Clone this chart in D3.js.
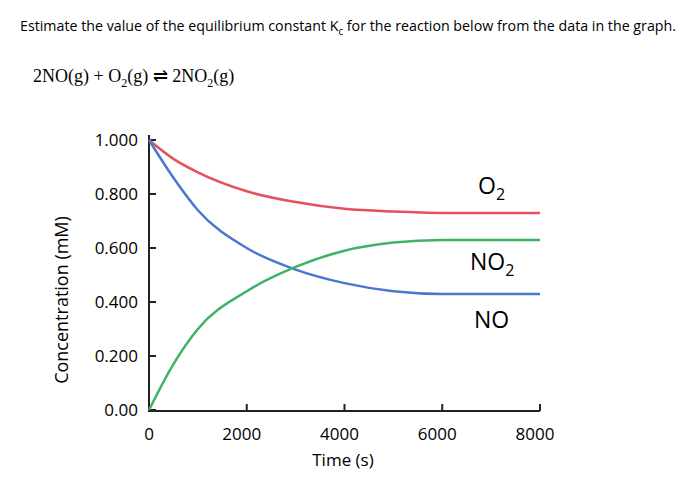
<!DOCTYPE html><html><head><script src="https://cdn.jsdelivr.net/npm/d3@7"></script>
<style>body{margin:0;background:#fff}text{font-family:"Open Sans",sans-serif}</style></head><body>
<svg id="c" width="700" height="477"></svg>
<script>
const times=[0,500,1000,2000,3000,4000,5000,6000,7000,8000];
const no2=[0,.17,.30,.44,.53,.59,.62,.63,.63,.63];
const no=[1,.86,.74,.60,.52,.47,.44,.43,.43,.43];
const o2=[1,.93,.88,.81,.77,.745,.735,.73,.73,.73];
const yTicks=[0,0.2,0.4,0.6,0.8,1.0];
const yLabels=["0.00","0.200","0.400","0.600","0.800","1.000"];
const xTicks=[0,2000,4000,6000,8000];
const svg=d3.select("#c");
const x=d3.scaleLinear().domain([0,8000]).range([149,540]);
const y=d3.scaleLinear().domain([0,1]).range([410,140]);
const title=svg.append("text").attr("x",20).attr("y",31).attr("font-size",14.5).attr("textLength",656).attr("lengthAdjust","spacingAndGlyphs");
title.append("tspan").text("Estimate the value of the equilibrium constant K");
title.append("tspan").attr("font-size",10).attr("dy",4).text("c");
title.append("tspan").attr("dy",-4).text(" for the reaction below from the data in the graph.");
const eq=svg.append("text").attr("x",33).attr("y",82).attr("font-size",18).style("font-family","Liberation Serif,serif");
eq.append("tspan").text("2NO(g) + O");eq.append("tspan").attr("font-size",12).attr("dy",5).text("2");
eq.append("tspan").attr("dy",-5).text("(g) ");
eq.append("tspan").text("\u21CC 2NO");eq.append("tspan").attr("font-size",12).attr("dy",5).text("2");eq.append("tspan").attr("dy",-5).text("(g)");
const g=svg.append("g");
g.append("line").attr("x1",149).attr("x2",149).attr("y1",135).attr("y2",412).attr("stroke","#222").attr("stroke-width",2);
g.append("line").attr("x1",149).attr("x2",540).attr("y1",411).attr("y2",411).attr("stroke","#222").attr("stroke-width",2);
yTicks.forEach((v,i)=>{g.append("line").attr("x1",149).attr("x2",156).attr("y1",y(v)).attr("y2",y(v)).attr("stroke","#222").attr("stroke-width",2);
g.append("text").attr("x",138).attr("y",y(v)+6).attr("text-anchor","end").attr("font-size",17).text(yLabels[i]);});
xTicks.forEach(v=>{if(v>0)g.append("line").attr("x1",x(v)).attr("x2",x(v)).attr("y1",411).attr("y2",404).attr("stroke","#222").attr("stroke-width",2);
g.append("text").attr("x",x(v)-(v?5:0)).attr("y",440).attr("text-anchor","middle").attr("font-size",17).text(v);});
svg.append("text").attr("x",343).attr("y",466).attr("text-anchor","middle").attr("font-size",17).text("Time (s)");
svg.append("text").attr("transform","translate(68,300) rotate(-90)").attr("text-anchor","middle").attr("font-size",18).text("Concentration (mM)");
const line=d3.line().x((d,i)=>x(times[i])).y(d=>y(d)).curve(d3.curveMonotoneX);
[[o2,"#e5505a"],[no,"#4a78d0"],[no2,"#3fb365"]].forEach(([d,c])=>svg.append("path").attr("d",line(d)).attr("fill","none").attr("stroke",c).attr("stroke-width",2.5));
function lab(xx,yy,a,b){const t=svg.append("text").attr("x",xx).attr("y",yy).attr("font-size",23);t.append("tspan").text(a);if(b){t.append("tspan").attr("font-size",16).attr("dy",6).text(b);}}
lab(478,194,"O","2");lab(470,270,"NO","2");lab(474,328,"NO");
</script></body></html>
